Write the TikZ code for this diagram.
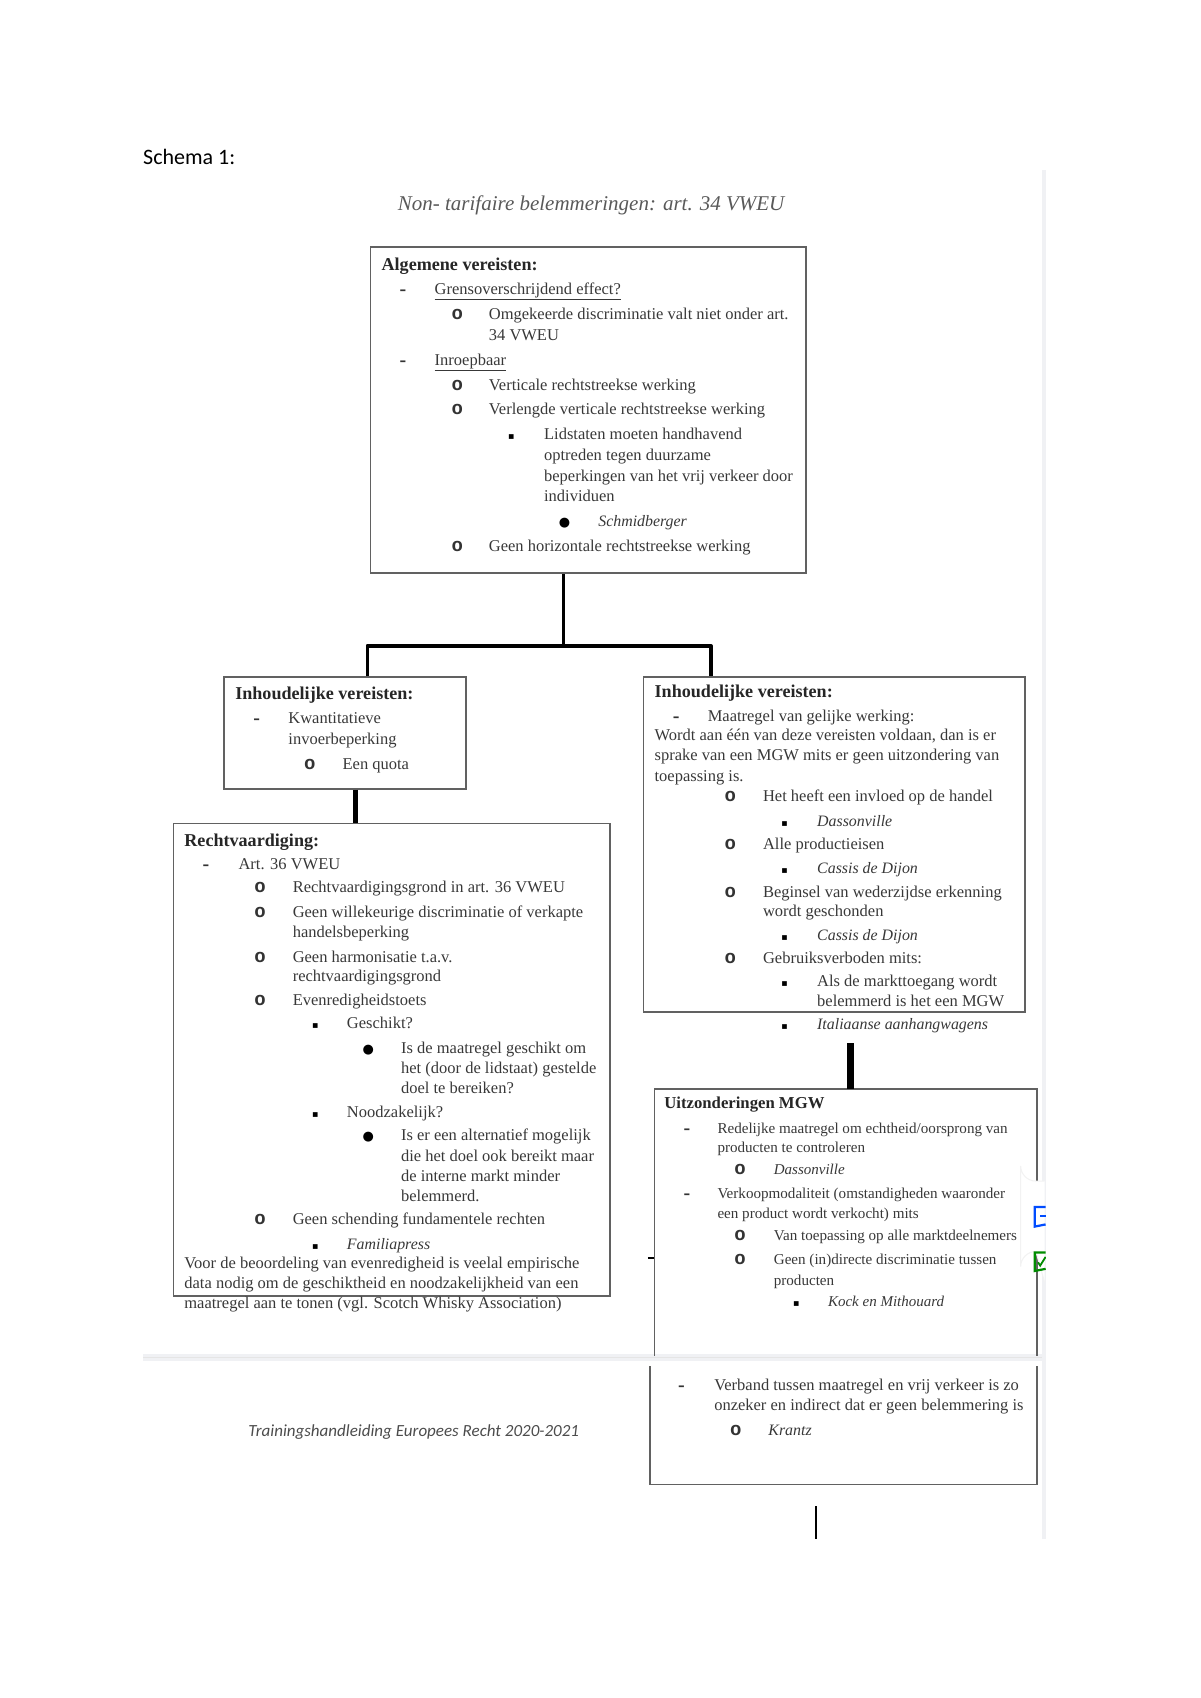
\documentclass[tikz,border=0pt]{standalone}
\usepackage{fontspec}
\usepackage{tikz}
\usetikzlibrary{fit}
\setmainfont{Liberation Serif}
\setmonofont{Liberation Mono}
\newfontfamily\calibrifont{Carlito}
\newfontfamily\glyphfont{DejaVu Sans}

\definecolor{inkgrey}{gray}{0.22}
\definecolor{framegrey}{gray}{0.38}
\definecolor{barpale}{HTML}{F0F1F4}

\tikzset{
  Regel/.style={anchor=base west,inner sep=0pt,text=inkgrey,font=\fontsize{16.5}{18}\selectfont},
  UitzRegel/.style={Regel,font=\fontsize{15.1}{18}\selectfont},
  Kop/.style={Regel,text=black!85,font=\fontsize{18.1}{18}\selectfont\bfseries},
  Arrest/.style={Regel,font=\fontsize{15.9}{18}\selectfont\itshape},
  UitzArrest/.style={Regel,font=\fontsize{15}{18}\selectfont\itshape},
  Streep/.style={anchor=base,inner sep=0pt,text=black!80,font=\fontsize{20}{18}\selectfont\bfseries},
  Rondje/.style={anchor=base,inner sep=0pt,text=black!80,font=\fontsize{19}{18}\ttfamily\bfseries},
  Blokje/.style={anchor=base,inner sep=0pt,font=\fontsize{9.5}{18}\glyphfont},
  Bol/.style={anchor=base,inner sep=0pt,font=\fontsize{13}{18}\glyphfont},
  Kader/.style={draw=framegrey,line width=1.7pt,inner sep=0pt},
  Open/.style={draw=none,inner sep=0pt},
  Stam/.style={line width=3.6pt,black},
}

\begin{document}
\begin{tikzpicture}[x=1.0835pt,y=-1.0835pt]
\useasboundingbox (0,0) rectangle (1107.5,1567.1);

% scrollbalk en paginarand
\fill[barpale] (962,157) rectangle (965,1420);
\fill[barpale] (132,1250) rectangle (965,1256);
\draw[line width=1pt,black!10] (132,1253) -- (962,1253);

\node[Regel,text=black,font=\fontsize{22}{22}\calibrifont] (Schema) at (132,152) {Schema 1:};
\node[Regel,text=black!65,font=\fontsize{21}{24}\selectfont\itshape] (Titel) at (367,194) {Non- tarifaire belemmeringen: art. 34 VWEU};

% kaders
\node[Kader,fit={(342,228) (744,529)}] (Algemeen) {};
\node[Kader,fit={(207,625) (430,728)}] (InhoudLinks) {};
\node[Kader,fit={(160,760) (563,1196)}] (Recht) {};
\node[Kader,fit={(594,625) (946,934)}] (InhoudRechts) {};
\node[Open,fit={(604,1005) (957,1251)}] (Uitz) {};
\node[Open,fit={(600,1261) (957,1370)}] (Rest) {};
\draw[framegrey,line width=1.5pt] (Uitz.south west) -- (Uitz.north west) -- (Uitz.north east) -- (Uitz.south east);
\draw[framegrey,line width=1.5pt] (Rest.north west) -- (Rest.south west) -- (Rest.south east) -- (Rest.north east);

% verbindingen
\coordinate (Splits) at (520,596);
\coordinate (BeenL) at (339,596);
\coordinate (BeenR) at (656,596);
\coordinate (Steel) at (328,744);
\coordinate (TopStuk) at (785,963);
\coordinate (Onder) at (753,1390);
\coordinate (OnderEind) at (753,1420);
\coordinate (Tik) at (598,1161);
\draw[Stam] (Splits |- Algemeen.south) -- (Splits);
\draw[Stam,line join=round] (BeenL |- InhoudLinks.north) -- (BeenL) -- (BeenR) -- (BeenR |- InhoudRechts.north);
\draw[Stam,line width=4.6pt] (Steel |- InhoudLinks.south) -- (Steel |- Recht.north);
\draw[Stam,line width=6.5pt] (TopStuk) -- (TopStuk |- Uitz.north);
\draw[Stam,line width=2.6pt] (Onder) -- (OnderEind);
\draw[Stam,line width=2pt] (Tik) -- (Tik -| Uitz.west);

% algemene vereisten
\node[Kop] (a0) at (352,250) {Algemene vereisten:};
\node[Streep] (a1b) at (372,273) {-};
\node[Regel] (a1) at (401,272) {\underline{Grensoverschrijdend effect?}};
\node[Rondje] (a2b) at (422,295) {o};
\node[Regel] (a2) at (451,295) {Omgekeerde discriminatie valt niet onder art.};
\node[Regel] (a3) at (451,314) {34 VWEU};
\node[Streep] (a4b) at (372,338) {-};
\node[Regel] (a4) at (401,337) {\underline{Inroepbaar}};
\node[Rondje] (a5b) at (422,360) {o};
\node[Regel] (a5) at (451,360) {Verticale rechtstreekse werking};
\node[Rondje] (a6b) at (422,383) {o};
\node[Regel] (a6) at (451,383) {Verlengde verticale rechtstreekse werking};
\node[Blokje] (a7b) at (472,406) {▪};
\node[Regel] (a7) at (502,406) {Lidstaten moeten handhavend};
\node[Regel] (a8) at (502,425) {optreden tegen duurzame};
\node[Regel] (a9) at (502,444) {beperkingen van het vrij verkeer door};
\node[Regel] (a10) at (502,463) {individuen};
\node[Bol] (a11b) at (521,486) {●};
\node[Arrest] (a11) at (552,486) {Schmidberger};
\node[Rondje] (a12b) at (422,509) {o};
\node[Regel] (a12) at (451,509) {Geen horizontale rechtstreekse werking};

% inhoudelijke vereisten links
\node[Kop] (b0) at (217,646) {Inhoudelijke vereisten:};
\node[Streep] (b1b) at (237,669) {-};
\node[Regel] (b1) at (266,668) {Kwantitatieve};
\node[Regel] (b2) at (266,687) {invoerbeperking};
\node[Rondje] (b3b) at (286,710) {o};
\node[Regel] (b3) at (316,710) {Een quota};

% rechtvaardiging
\node[Kop] (c0) at (170,781) {Rechtvaardiging:};
\node[Streep] (c1b) at (190,803) {-};
\node[Regel] (c1) at (220,802) {Art. 36 VWEU};
\node[Rondje] (c2b) at (240,824) {o};
\node[Regel] (c2) at (270,824) {Rechtvaardigingsgrond in art. 36 VWEU};
\node[Rondje] (c3b) at (240,847) {o};
\node[Regel] (c3) at (270,847) {Geen willekeurige discriminatie of verkapte};
\node[Regel] (c4) at (270,865) {handelsbeperking};
\node[Rondje] (c5b) at (240,888) {o};
\node[Regel] (c5) at (270,888) {Geen harmonisatie t.a.v.};
\node[Regel] (c6) at (270,906) {rechtvaardigingsgrond};
\node[Rondje] (c7b) at (240,928) {o};
\node[Regel] (c7) at (270,928) {Evenredigheidstoets};
\node[Blokje] (c8b) at (291,949) {▪};
\node[Regel] (c8) at (320,949) {Geschikt?};
\node[Bol] (c9b) at (340,972) {●};
\node[Regel] (c9) at (370,972) {Is de maatregel geschikt om};
\node[Regel] (c10) at (370,991) {het (door de lidstaat) gestelde};
\node[Regel] (c11) at (370,1009) {doel te bereiken?};
\node[Blokje] (c12b) at (291,1031) {▪};
\node[Regel] (c12) at (320,1031) {Noodzakelijk?};
\node[Bol] (c13b) at (340,1053) {●};
\node[Regel] (c13) at (370,1053) {Is er een alternatief mogelijk};
\node[Regel] (c14) at (370,1072) {die het doel ook bereikt maar};
\node[Regel] (c15) at (370,1090) {de interne markt minder};
\node[Regel] (c16) at (370,1109) {belemmerd.};
\node[Rondje] (c17b) at (240,1130) {o};
\node[Regel] (c17) at (270,1130) {Geen schending fundamentele rechten};
\node[Blokje] (c18b) at (291,1153) {▪};
\node[Arrest] (c18) at (320,1153) {Familiapress};
\node[Regel] (c19) at (170,1171) {Voor de beoordeling van evenredigheid is veelal empirische};
\node[Regel] (c20) at (170,1189) {data nodig om de geschiktheid en noodzakelijkheid van een};
\node[Regel] (c21) at (170,1208) {maatregel aan te tonen (vgl. Scotch Whisky Association)};

% inhoudelijke vereisten rechts
\node[Kop] (d0) at (604,644) {Inhoudelijke vereisten:};
\node[Streep] (d1b) at (624,667) {-};
\node[Regel] (d1) at (653,666) {Maatregel van gelijke werking:};
\node[Regel] (d2) at (604,683) {Wordt aan één van deze vereisten voldaan, dan is er};
\node[Regel] (d3) at (604,702) {sprake van een MGW mits er geen uitzondering van};
\node[Regel] (d4) at (604,721) {toepassing is.};
\node[Rondje] (d5b) at (674,740) {o};
\node[Regel] (d5) at (704,740) {Het heeft een invloed op de handel};
\node[Blokje] (d6b) at (724,763) {▪};
\node[Arrest] (d6) at (754,763) {Dassonville};
\node[Rondje] (d7b) at (674,784) {o};
\node[Regel] (d7) at (704,784) {Alle productieisen};
\node[Blokje] (d8b) at (724,806) {▪};
\node[Arrest] (d8) at (754,806) {Cassis de Dijon};
\node[Rondje] (d9b) at (674,828) {o};
\node[Regel] (d9) at (704,828) {Beginsel van wederzijdse erkenning};
\node[Regel] (d10) at (704,846) {wordt geschonden};
\node[Blokje] (d11b) at (724,868) {▪};
\node[Arrest] (d11) at (754,868) {Cassis de Dijon};
\node[Rondje] (d12b) at (674,889) {o};
\node[Regel] (d12) at (704,889) {Gebruiksverboden mits:};
\node[Blokje] (d13b) at (724,910) {▪};
\node[Regel] (d13) at (754,910) {Als de markttoegang wordt};
\node[Regel] (d14) at (754,929) {belemmerd is het een MGW};
\node[Blokje] (d15b) at (724,950) {▪};
\node[Arrest] (d15) at (754,950) {Italiaanse aanhangwagens};

% uitzonderingen
\node[Kop,font=\fontsize{16.7}{18}\selectfont\bfseries] (e0) at (613,1023) {Uitzonderingen MGW};
\node[Streep] (e1b) at (634,1047) {-};
\node[UitzRegel] (e1) at (662,1046) {Redelijke maatregel om echtheid/oorsprong van};
\node[UitzRegel] (e2) at (662,1064) {producten te controleren};
\node[Rondje] (e3b) at (683,1084) {o};
\node[UitzArrest] (e3) at (714,1084) {Dassonville};
\node[Streep] (e4b) at (634,1107) {-};
\node[UitzRegel] (e4) at (662,1106) {Verkoopmodaliteit (omstandigheden waaronder};
\node[UitzRegel] (e5) at (662,1125) {een product wordt verkocht) mits};
\node[Rondje] (e6b) at (683,1145) {o};
\node[UitzRegel] (e6) at (714,1145) {Van toepassing op alle marktdeelnemers};
\node[Rondje] (e7b) at (683,1167) {o};
\node[UitzRegel] (e7) at (714,1167) {Geen (in)directe discriminatie tussen};
\node[UitzRegel] (e8) at (714,1186) {producten};
\node[Blokje] (e9b) at (735,1206) {▪};
\node[UitzArrest] (e9) at (764,1206) {Kock en Mithouard};

% vervolg na de pagina
\node[Streep] (f1b) at (629,1284) {-};
\node[Regel] (f1) at (659,1283) {Verband tussen maatregel en vrij verkeer is zo};
\node[Regel] (f2) at (659,1302) {onzeker en indirect dat er geen belemmering is};
\node[Rondje] (f3b) at (679,1325) {o};
\node[Arrest] (f3) at (709,1325) {Krantz};

\node[Regel,text=black!70,font=\fontsize{17}{20}\calibrifont\itshape] (Voet) at (229,1326) {Trainingshandleiding Europees Recht 2020-2021};

% zijpaneel met knoppen
\fill[white] (964,1090) -- (956,1090) arc (90:180:14) -- (942,1169) arc (180:270:14) -- (964,1183) -- cycle;
\draw[black!5,line width=1pt] (964,1090) -- (956,1090) arc (90:180:14) -- (942,1169) arc (180:270:14) -- (964,1183);
\draw[blue!70!cyan,line width=2.2pt] (965,1114) -- (955,1114) -- (955,1132) -- (965,1130);
\draw[blue!70!cyan,line width=1.6pt] (960,1122) -- (965,1122);
\draw[green!55!black,line width=2.2pt] (965,1156) -- (955,1156) -- (955,1173) -- (965,1171);
\draw[green!55!black,line width=1.8pt] (958,1165) -- (960,1168) -- (965,1160);
\fill[white] (965.5,1100) rectangle (975,1180);
\end{tikzpicture}
\end{document}
